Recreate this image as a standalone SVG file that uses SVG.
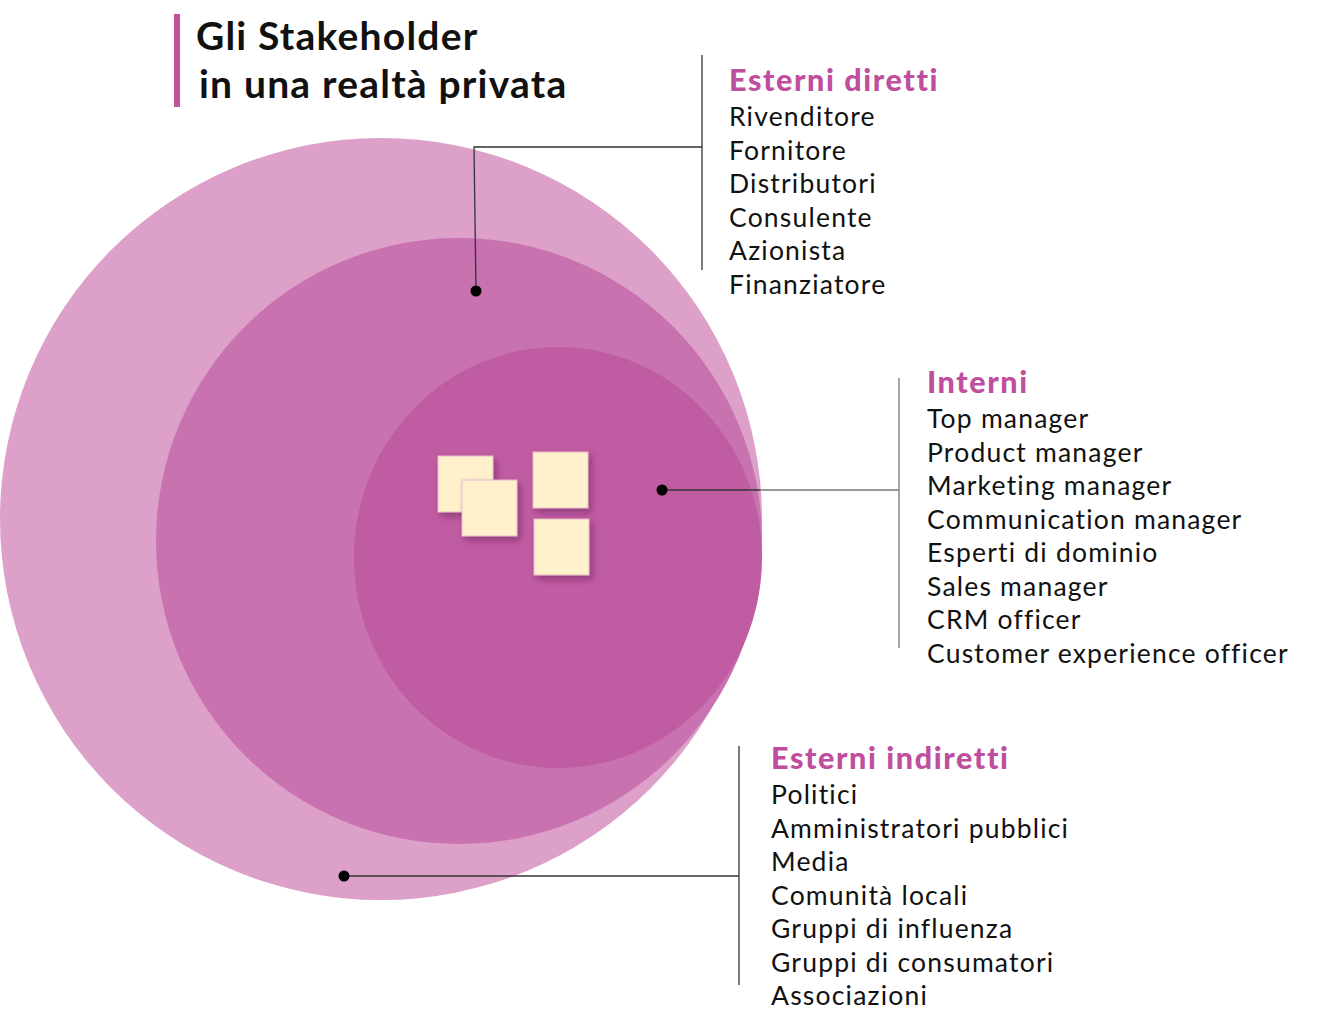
<svg xmlns="http://www.w3.org/2000/svg" width="1320" height="1028" viewBox="0 0 1320 1028">
<defs>
<style>
.t{font-family:Lato,"Noto Sans","Liberation Sans",sans-serif;font-size:26.5px;letter-spacing:1.2px;font-variant-ligatures:none;fill:#111}
.h{font-family:Lato,"Noto Sans","Liberation Sans",sans-serif;font-size:30.5px;font-weight:900;letter-spacing:1.6px;font-variant-ligatures:none;fill:#C04E9E}
.title{font-family:Lato,"Noto Sans","Liberation Sans",sans-serif;font-size:39px;font-weight:bold;letter-spacing:1.2px;font-variant-ligatures:none;fill:#111}
.ln{stroke:#333;stroke-width:1.3;fill:none}
.ln2{stroke:#777;stroke-width:1.3;fill:none}
.note{fill:#FFF1CC;stroke:#E9B9C9;stroke-width:1;filter:url(#sh)}
</style>
<filter id="sh" x="-30%" y="-30%" width="170%" height="170%">
<feDropShadow dx="3" dy="4" stdDeviation="3" flood-color="#5a1a48" flood-opacity="0.45"/>
</filter>
</defs>
<rect width="1320" height="1028" fill="#fff"/>
<g id="title">
<rect x="174" y="14" width="6" height="93" fill="#C4519E"/>
<text class="title" x="196" y="50">Gli Stakeholder</text>
<text class="title" x="199" y="98">in una realtà privata</text>
</g>
<g id="circle-esterni-indiretti"><circle cx="381" cy="519" r="381" fill="#DCA0C9"/></g>
<g id="circle-esterni-diretti"><circle cx="459" cy="541" r="303" fill="#C972B0"/></g>
<g id="circle-interni"><ellipse cx="558" cy="557.5" rx="204" ry="210.5" fill="#C05CA2"/></g>
<g id="notes">
<rect class="note" x="438" y="456" width="55" height="56"/>
<rect class="note" x="462" y="480" width="55" height="56"/>
<rect class="note" x="533" y="452" width="55" height="56"/>
<rect class="note" x="534" y="519" width="55" height="56"/>
</g>
<g id="connectors">
<polyline class="ln" points="702,55 702,270"/>
<polyline class="ln" points="702,147 474,147 476,291"/>
<circle cx="476" cy="291" r="5.5" fill="#000"/>
<polyline class="ln2" points="899,378 899,648"/>
<polyline class="ln" points="662,490 760,490"/>
<polyline class="ln2" points="760,490 899,490"/>
<circle cx="662" cy="490" r="5.5" fill="#000"/>
<polyline class="ln" points="739,746 739,985"/>
<polyline class="ln" points="344,876 739,876"/>
<circle cx="344" cy="876" r="5.5" fill="#000"/>
</g>
<g id="label-esterni-diretti">
<text class="h" x="729" y="91">Esterni diretti</text>
<text class="t" x="729" y="126">Rivenditore</text>
<text class="t" x="729" y="160">Fornitore</text>
<text class="t" x="729" y="193">Distributori</text>
<text class="t" x="729" y="227">Consulente</text>
<text class="t" x="729" y="260">Azionista</text>
<text class="t" x="729" y="294">Finanziatore</text>
</g>
<g id="label-interni">
<text class="h" x="927" y="393">Interni</text>
<text class="t" x="927" y="428">Top manager</text>
<text class="t" x="927" y="462">Product manager</text>
<text class="t" x="927" y="495">Marketing manager</text>
<text class="t" x="927" y="529">Communication manager</text>
<text class="t" x="927" y="562">Esperti di dominio</text>
<text class="t" x="927" y="596">Sales manager</text>
<text class="t" x="927" y="629">CRM officer</text>
<text class="t" x="927" y="663">Customer experience officer</text>
</g>
<g id="label-esterni-indiretti">
<text class="h" x="771" y="769">Esterni indiretti</text>
<text class="t" x="771" y="804">Politici</text>
<text class="t" x="771" y="838">Amministratori pubblici</text>
<text class="t" x="771" y="871">Media</text>
<text class="t" x="771" y="905">Comunità locali</text>
<text class="t" x="771" y="938">Gruppi di influenza</text>
<text class="t" x="771" y="972">Gruppi di consumatori</text>
<text class="t" x="771" y="1005">Associazioni</text>
</g>
</svg>
